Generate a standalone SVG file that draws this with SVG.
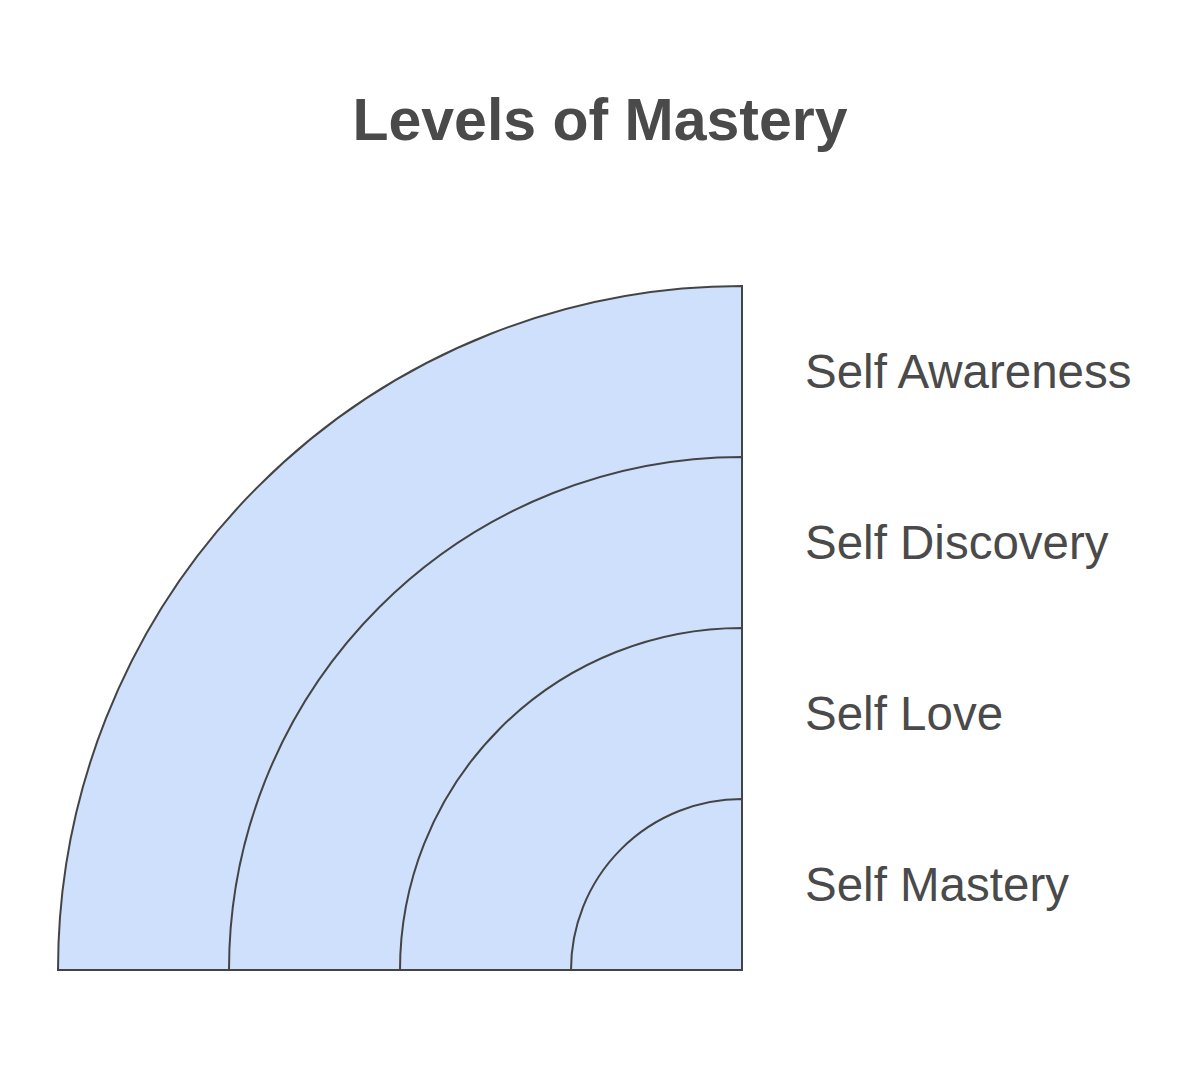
<svg xmlns="http://www.w3.org/2000/svg" width="1200" height="1086" viewBox="0 0 1200 1086">
<style>
.ring{fill:#cfe0fc;stroke:#444;stroke-width:2}
.lbl{font-family:"Liberation Sans",Arial,sans-serif;font-size:47.5px;fill:#4a4a4a}
.title{font-family:"Liberation Sans",Arial,sans-serif;font-size:59px;font-weight:bold;fill:#4a4a4a}
</style>
<rect width="1200" height="1086" fill="#fff"/>
<text class="title" x="600" y="140" text-anchor="middle">Levels of Mastery</text>
<g id="self-awareness">
<path class="ring" d="M58,970 A684,684 0 0 1 742,286 L742,970 Z"/>
<text class="lbl" x="805" y="388">Self Awareness</text>
</g>
<g id="self-discovery">
<path class="ring" d="M229,970 A513,513 0 0 1 742,457 L742,970 Z"/>
<text class="lbl" x="805" y="559">Self Discovery</text>
</g>
<g id="self-love">
<path class="ring" d="M400,970 A342,342 0 0 1 742,628 L742,970 Z"/>
<text class="lbl" x="805" y="730">Self Love</text>
</g>
<g id="self-mastery">
<path class="ring" d="M571,970 A171,171 0 0 1 742,799 L742,970 Z"/>
<text class="lbl" x="805" y="901">Self Mastery</text>
</g>
<g id="connectors"/>
</svg>
